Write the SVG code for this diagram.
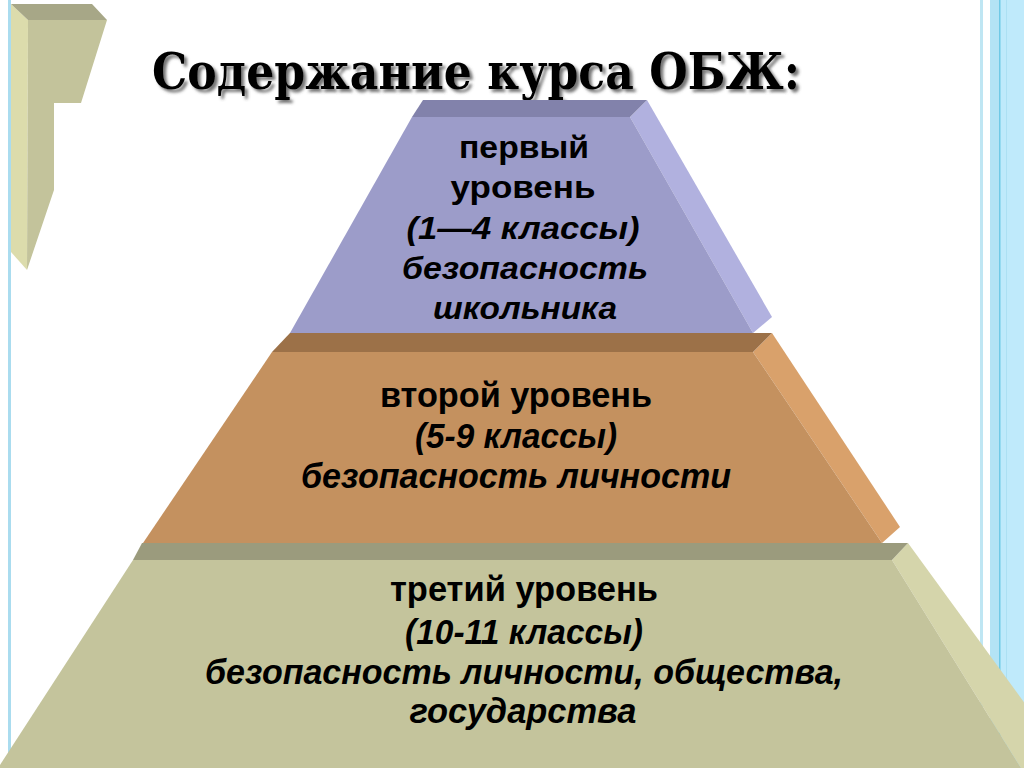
<svg xmlns="http://www.w3.org/2000/svg" width="1024" height="768" viewBox="0 0 1024 768">
<defs>
<style>
.t{font-family:"Liberation Sans",Arial,sans-serif;font-weight:bold;font-size:32px;fill:#000;text-anchor:middle}
.n{font-size:35px}
.i{font-style:italic}
.title{font-family:"DejaVu Serif","Liberation Serif",serif;font-weight:bold;font-size:51px}
</style>
<filter id="shadow" x="-5%" y="-30%" width="110%" height="160%"><feDropShadow dx="3" dy="3" stdDeviation="1.5" flood-color="#555" flood-opacity="0.8"/></filter>
</defs>
<rect width="1024" height="768" fill="#ffffff"/>
<g id="frame">
<rect x="8" y="0" width="3" height="768" fill="#aadcef"/>
<rect x="980" y="0" width="3" height="768" fill="#bfe6f3"/>
<rect x="990" y="0" width="34" height="768" fill="#bfeafb"/>
<rect x="990" y="0" width="9" height="768" fill="#b3e3f5"/>
<rect x="999" y="0" width="1.5" height="768" fill="#6fc9e6"/>
<rect x="1006" y="0" width="1" height="768" fill="#ace0f3"/>
</g>
<g id="corner">
<polygon points="11,4 28,20 27,270 11,252" fill="#dcdcac"/>
<polygon points="11,4 92,4 107,20 28,20" fill="#a7a787"/>
<polygon points="28,20 107,20 81,103 54,103 54,190 27,270" fill="#c3c39b"/>
</g>
<g id="title">
<text class="title" x="476" y="89" fill="#000" filter="url(#shadow)" text-anchor="middle" textLength="648" lengthAdjust="spacingAndGlyphs">Содержание курса ОБЖ:</text>
</g>
<g id="level3">
<polygon points="892,560 908,543 1072,768 1021,768" fill="#d5d5ab"/>
<polygon points="133,560 892,560 1021,768 -2,768" fill="#c4c49c"/>
<polygon points="142,543 908,543 892,560 133,560" fill="#9b9b7d"/>
<text class="t n" x="524" y="601" textLength="268" lengthAdjust="spacingAndGlyphs">третий уровень</text>
<text class="t n i" x="524" y="644" textLength="238" lengthAdjust="spacingAndGlyphs">(10-11 классы)</text>
<text class="t n i" x="524" y="684" textLength="638" lengthAdjust="spacingAndGlyphs">безопасность личности, общества,</text>
<text class="t n i" x="523" y="723" textLength="227" lengthAdjust="spacingAndGlyphs">государства</text>
</g>
<g id="level2">
<polygon points="753,352 772,333 900,527 882,543" fill="#d9a16b"/>
<polygon points="272,352 753,352 882,543 143,543" fill="#c4915f"/>
<polygon points="290,333 772,333 753,352 272,352" fill="#9c7148"/>
<text class="t n" x="516" y="407" textLength="272" lengthAdjust="spacingAndGlyphs">второй уровень</text>
<text class="t n i" x="516" y="448" textLength="202" lengthAdjust="spacingAndGlyphs">(5-9 классы)</text>
<text class="t n i" x="516" y="488" textLength="430" lengthAdjust="spacingAndGlyphs">безопасность личности</text>
</g>
<g id="level1">
<polygon points="630,117 647,100 772,317 753,333" fill="#b1b1df"/>
<polygon points="412,117 630,117 753,333 290,333" fill="#9c9cc9"/>
<polygon points="423,100 647,100 630,117 412,117" fill="#8282ab"/>
<text class="t" x="524" y="158" textLength="130" lengthAdjust="spacingAndGlyphs">первый</text>
<text class="t" x="523" y="198" textLength="145" lengthAdjust="spacingAndGlyphs">уровень</text>
<text class="t i" x="523" y="239" textLength="233" lengthAdjust="spacingAndGlyphs">(1—4 классы)</text>
<text class="t i" x="525" y="279" textLength="246" lengthAdjust="spacingAndGlyphs">безопасность</text>
<text class="t i" x="525" y="319" textLength="184" lengthAdjust="spacingAndGlyphs">школьника</text>
</g>
<g id="connectors"/>
</svg>
